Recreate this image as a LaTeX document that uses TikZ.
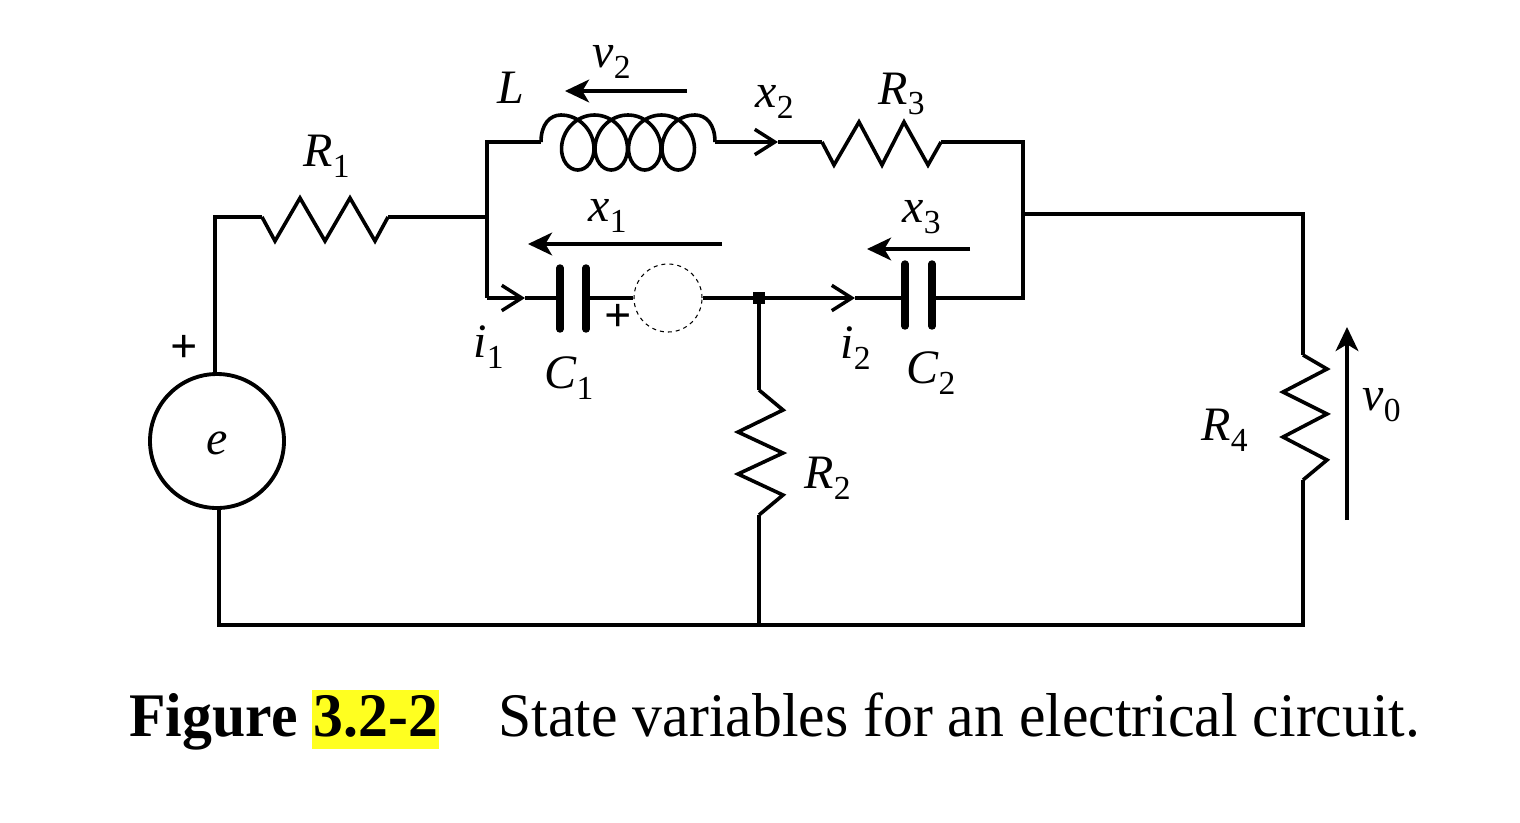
\documentclass[tikz,border=0pt]{standalone}
\usepackage{fontspec}
\setmainfont{Liberation Serif}
\newfontfamily\captfont[FakeStretch=0.963]{Liberation Serif}
\usetikzlibrary{arrows.meta}

\newcommand{\symsub}[2]{\textit{#1}\textsubscript{#2}}

\tikzset{every picture/.style={line width=0.75pt}}
\tikzset{
	wire/.style={line width=2.7pt,line join=miter},
	plate/.style={line width=5.6pt,line cap=round},
	openarrow/.style={wire,-{Straight Barb[length=15pt,width=19pt,line width=2.6pt]}},
	volt/.style={line width=2.8pt,-{Stealth[length=18pt,width=17pt,inset=5pt]}},
	lbl/.style={inner sep=0pt,font=\fontsize{36}{38}\selectfont},
	capt/.style={inner sep=0pt,anchor=base west,font=\captfont\fontsize{46.5}{50}\selectfont}
}

\begin{document}
\begin{tikzpicture}[x=0.75pt,y=0.75pt,yscale=-1,xscale=1]
	\useasboundingbox (0,0) rectangle (1520,822);

	% Junctions
	\coordinate (tl) at (215,217);
	\coordinate (r1a) at (262,217);
	\coordinate (r1b) at (388,217);
	\coordinate (ja) at (487,217);
	\coordinate (ltop) at (487,142);
	\coordinate (lbot) at (487,298);
	\coordinate (la) at (541,142);
	\coordinate (lb) at (715,142);
	\coordinate (tipx2) at (778,142);
	\coordinate (r3a) at (822,142);
	\coordinate (r3b) at (941,142);
	\coordinate (rtop) at (1023,142);
	\coordinate (jb) at (1023,214);
	\coordinate (rbot) at (1023,298);
	\coordinate (tr) at (1303,214);
	\coordinate (r4a) at (1303,355);
	\coordinate (r4b) at (1303,480);
	\coordinate (br) at (1303,625);
	\coordinate (jc) at (759,298);
	\coordinate (r2a) at (759,390);
	\coordinate (r2b) at (759,515);
	\coordinate (jd) at (759,625);
	\coordinate (bl) at (219,625);
	\coordinate (tipi1) at (525,298);
	\coordinate (tipi2) at (855,298);
	\coordinate (c1l) at (560,298);
	\coordinate (c1r) at (586,298);
	\coordinate (c2l) at (905,295);
	\coordinate (c2r) at (932,298);

	% Sources
	\node (src) [draw,circle,line width=2.9pt,minimum size=100.5pt,inner sep=0pt] at (217,441) {};
	\node (dsh) [draw,circle,dashed,line width=0.8pt,minimum size=51pt,inner sep=0pt] at (668,298) {};

	% Wires
	\draw [wire] (src.north -| tl) -- (tl) -- (r1a);
	\draw [wire] (r1b) -- (ja);
	\draw [wire] (la) -- (ltop) -- (lbot);
	\draw [openarrow] (lbot) -- (tipi1);
	\draw [wire] (tipi1) -- (c1l);
	\draw [wire] (c1r) -- (dsh.west);
	\draw [wire] (dsh.east) -- (jc);
	\draw [openarrow] (jc) -- (tipi2);
	\draw [wire] (tipi2) -- (c2l |- tipi2);
	\draw [wire] (c2r) -- (rbot) -- (rtop) -- (r3b);
	\draw [openarrow] (lb) -- (tipx2);
	\draw [wire] (tipx2) -- (r3a);
	\draw [wire] (jb) -- (tr) -- (r4a);
	\draw [wire] (r4b) -- (br) -- (bl) -- (src.south -| bl);
	\draw [wire] (jc) -- (r2a);
	\draw [wire] (r2b) -- (jd);
	\fill (jc) ++(-6,-6) rectangle ++(12,12);

	% Resistors
	\draw [wire] (r1a) -- (275,241) -- (300,198) -- (325,241) -- (350,198) -- (375,241) -- (r1b);
	\draw [wire] (r3a) -- (834,165) -- (859,122) -- (882,165) -- (904,122) -- (928,165) -- (r3b);
	\draw [wire] (r2a) -- (783,410) -- (738,432) -- (783,453) -- (738,474) -- (783,495) -- (r2b);
	\draw [wire] (r4a) -- (1327,369) -- (1283,392) -- (1327,414) -- (1283,437) -- (1327,460) -- (r4b);

	% Inductor
	\draw [wire] (la) .. controls (541,124) and (550,115) .. (561,115);
	\draw [wire] plot [domain=0:1440,samples=145,smooth,variable=\t] ({561+\t/360*33.5+24*sin(\t)},{142.5-27.5*cos(\t)});
	\draw [wire] (695,115) .. controls (706,115) and (715,124) .. (lb);

	% Capacitors
	\draw [plate] (560,268) -- (560,329);
	\draw [plate] (586,268) -- (586,329);
	\draw [plate] (905,264) -- (905,326);
	\draw [plate] (932,264) -- (932,326);

	% Voltage and current arrows
	\coordinate (v2a) at (687,91);
	\coordinate (v2b) at (565,91);
	\coordinate (x1a) at (722,244);
	\coordinate (x1b) at (528,244);
	\coordinate (x3a) at (970,249);
	\coordinate (x3b) at (867,249);
	\coordinate (v0a) at (1347,520);
	\coordinate (v0b) at (1347,327);
	\draw [volt] (v2a) -- (v2b);
	\draw [volt] (x1a) -- (x1b);
	\draw [volt] (x3a) -- (x3b);
	\draw [volt] (v0a) -- (v0b);

	% Text Node
	\node (lblL) [lbl] at (511,88) {\textit{L}};
	\node (lblv2) [lbl] at (612,62) {\symsub{v}{2}};
	\node (lblx2) [lbl] at (775,102) {\symsub{x}{2}};
	\node (lblR3) [lbl] at (902,94) {\symsub{R}{3}};
	\node (lblR1) [lbl] at (327,156) {\symsub{R}{1}};
	\node (lblx1) [lbl] at (608,216) {\symsub{x}{1}};
	\node (lblx3) [lbl] at (922,217) {\symsub{x}{3}};
	\node (lbli1) [lbl] at (489,347) {\symsub{i}{1}};
	\node (lblC1) [lbl] at (569,378) {\symsub{C}{1}};
	\node (lbli2) [lbl] at (856,348) {\symsub{i}{2}};
	\node (lblC2) [lbl] at (931,373) {\symsub{C}{2}};
	\node (lblR2) [lbl] at (828,478) {\symsub{R}{2}};
	\node (lblR4) [lbl] at (1225,430) {\symsub{R}{4}};
	\node (lblv0) [lbl] at (1382,405) {\symsub{v}{0}};
	\node (lble) [lbl] at (217,443) {\textit{e}};
	\node (plus1) [lbl] at (184,349) {\textbf{+}};
	\node (plus2) [lbl] at (618,318) {\textbf{+}};

	% Caption
	\node (capbox) [fill={rgb,255:red,255;green,255;blue,32},minimum width=95.25pt,minimum height=44.25pt,inner sep=0pt] at (375.5,719.5) {};
	\node (capfig) [capt] at (129,736) {\textbf{Figure}};
	\node (capnum) [capt] at (313,736) {\textbf{3.2-2}};
	\node (captxt) [capt] at (498,736) {State variables for an electrical circuit.};
\end{tikzpicture}
\end{document}
